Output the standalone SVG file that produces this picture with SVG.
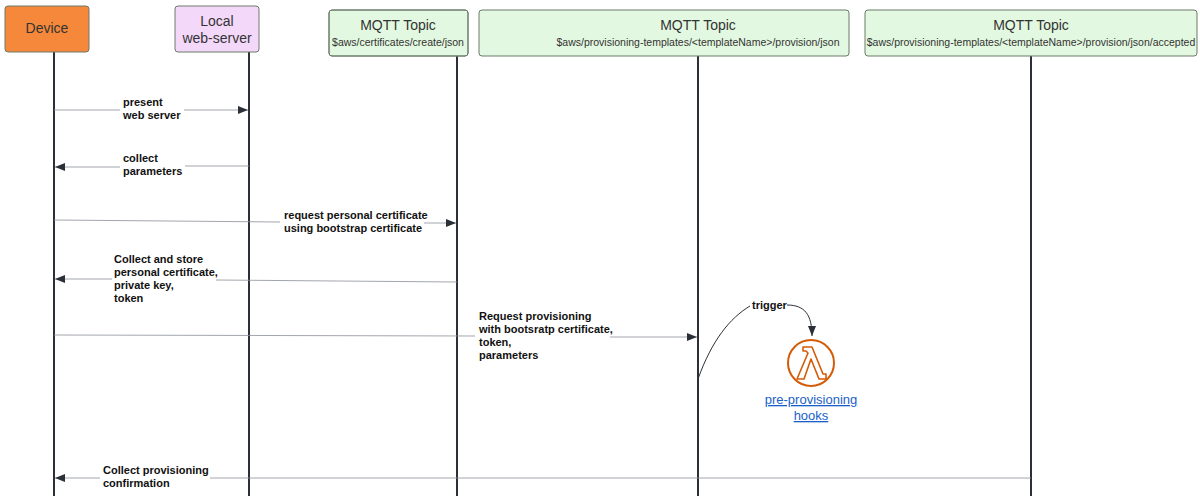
<svg xmlns="http://www.w3.org/2000/svg" width="1200" height="496" viewBox="0 0 1200 496">
<style>
.box{stroke:#6b7a6b;stroke-width:1}
.t{font-family:"Liberation Sans",Arial,sans-serif;fill:#333}
.h{font-size:14px;text-anchor:middle}
.s{font-size:10.5px;text-anchor:middle}
.l{font-size:11px;font-weight:bold;fill:#111}
.life{stroke:#2b2f38;stroke-width:2}
.msg{stroke:#8a8f98;stroke-width:0.8;fill:none}
</style>
<defs>
<marker id="a" markerWidth="10" markerHeight="8" refX="10" refY="4" orient="auto" markerUnits="userSpaceOnUse"><path d="M0,0L10,4L0,8z" fill="#2b2f38"/></marker>
</defs>
<g id="lifelines">
<line class="life" x1="54" y1="52" x2="54" y2="496"/>
<line class="life" x1="249" y1="52" x2="249" y2="496"/>
<line class="life" x1="457" y1="56" x2="457" y2="496"/>
<line class="life" x1="698" y1="56" x2="698" y2="496"/>
<line class="life" x1="1031" y1="56" x2="1031" y2="496"/>
</g>
<g id="device"><rect class="box" x="5" y="6" width="84" height="46" rx="3" fill="#f5883a" stroke="#7a4a20"/><text class="t h" x="47" y="33">Device</text></g>
<g id="local"><rect class="box" x="175" y="6" width="84" height="46" rx="3" fill="#f4d8fa" stroke="#7a6a7f"/><text class="t h" x="217" y="26">Local</text><text class="t h" x="217" y="43">web-server</text></g>
<g id="mqtt1"><rect class="box" x="329" y="10" width="139" height="46" rx="3" fill="#e3f8e0" transform="translate(0,0)"/></g>
<g id="mqtt1b"><rect class="box" x="329" y="10" width="139" height="46" rx="3" fill="none" stroke="none"/><text class="t h" x="398" y="30">MQTT Topic</text><text class="t s" x="398" y="46">$aws/certificates/create/json</text></g>
<g id="mqtt2"><rect class="box" x="479" y="10" width="370" height="46" rx="3" fill="#e3f8e0"/><text class="t h" x="698" y="30">MQTT Topic</text><text class="t s" x="698" y="46">$aws/provisioning-templates/&lt;templateName&gt;/provision/json</text></g>
<g id="mqtt3"><rect class="box" x="865" y="10" width="332" height="46" rx="3" fill="#e3f8e0"/><text class="t h" x="1031" y="30">MQTT Topic</text><text class="t s" x="1031" y="46">$aws/provisioning-templates/&lt;templateName&gt;/provision/json/accepted</text></g>
<g id="connectors">
<line class="msg" x1="54" y1="110" x2="120" y2="110"/><line class="msg" x1="184" y1="110" x2="248" y2="110" marker-end="url(#a)"/>
<line class="msg" x1="249" y1="166" x2="185" y2="166"/><line class="msg" x1="120" y1="167" x2="55" y2="167" marker-end="url(#a)"/>
<line class="msg" x1="54" y1="220" x2="280" y2="222"/><line class="msg" x1="424" y1="223" x2="456" y2="223" marker-end="url(#a)"/>
<line class="msg" x1="457" y1="282" x2="216" y2="280"/><line class="msg" x1="112" y1="279" x2="55" y2="279" marker-end="url(#a)"/>
<line class="msg" x1="54" y1="335" x2="475" y2="336"/><line class="msg" x1="610" y1="337" x2="697" y2="337" marker-end="url(#a)"/>
<line class="msg" x1="1031" y1="478" x2="210" y2="478"/><line class="msg" x1="100" y1="478" x2="55" y2="478" marker-end="url(#a)"/>
<path d="M698,379 C712,340 730,318 750,306" stroke="#2b2f38" stroke-width="1" fill="none"/>
<path d="M787,305 C805,305 812,315 812,336" stroke="#2b2f38" stroke-width="1" fill="none" marker-end="url(#a)"/>
</g>
<g id="labels">
<text class="t l" x="123" y="106">present</text><text class="t l" x="123" y="119">web server</text>
<text class="t l" x="123" y="162">collect</text><text class="t l" x="123" y="175">parameters</text>
<text class="t l" x="284" y="219">request personal certificate</text><text class="t l" x="284" y="232">using bootstrap certificate</text>
<text class="t l" x="114" y="263">Collect and store</text><text class="t l" x="114" y="276">personal certificate,</text><text class="t l" x="114" y="289">private key,</text><text class="t l" x="114" y="302">token</text>
<text class="t l" x="479" y="320">Request provisioning</text><text class="t l" x="479" y="333">with bootsratp certificate,</text><text class="t l" x="479" y="346">token,</text><text class="t l" x="479" y="359">parameters</text>
<text class="t l" x="752" y="309">trigger</text>
<text class="t l" x="103" y="474">Collect provisioning</text><text class="t l" x="103" y="487">confirmation</text>
</g>
<g id="lambda">
<circle cx="811" cy="363" r="23" fill="none" stroke="#d45b07" stroke-width="2"/>
<path d="M803,347 L812,347 L823,374 L826,374 L826,379 L819,379 L811,359 L804,379 L797,379 L808,353 L806,351 L803,351 Z" fill="none" stroke="#d45b07" stroke-width="1.6" stroke-linejoin="round"/>
<text class="t h" x="811" y="404" fill="#1a5fc8" style="fill:#1a5fc8;font-size:13px;text-decoration:underline">pre-provisioning</text>
<text class="t h" x="811" y="420" style="fill:#1a5fc8;font-size:13px;text-decoration:underline">hooks</text>
</g>
</svg>
